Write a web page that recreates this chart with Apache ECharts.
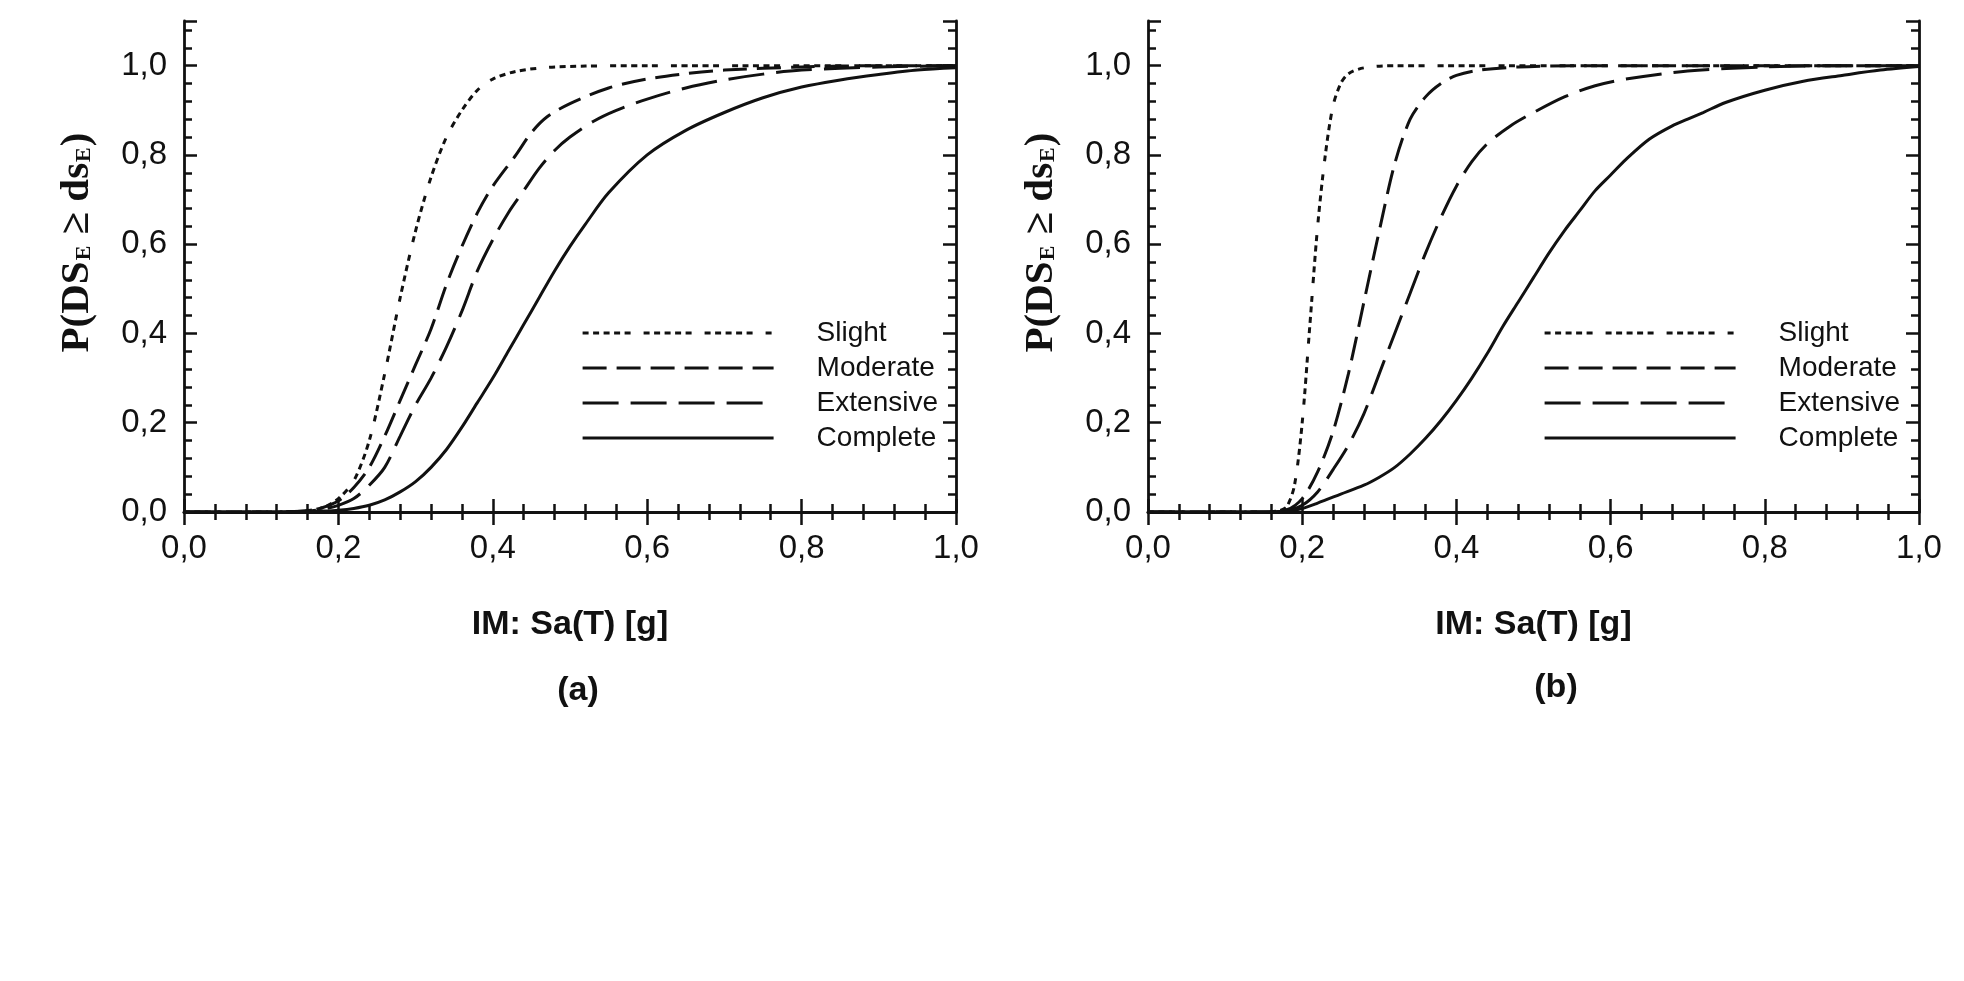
<!DOCTYPE html>
<html>
<head>
<meta charset="utf-8">
<title>Fragility curves</title>
<script src="https://cdn.jsdelivr.net/npm/echarts@6/dist/echarts.min.js"></script>
<style>
  html, body { margin: 0; padding: 0; background: #fff; }
  #chart { width: 1964px; height: 981px; }
</style>
</head>
<body>
<div id="chart"></div>
<script>
// damage state names
const states = ['Slight', 'Moderate', 'Extensive', 'Complete'];
const xTicks = [0, 0.2, 0.4, 0.6, 0.8, 1.0];
const yTicks = [0, 0.2, 0.4, 0.6, 0.8, 1.0];

// panel (a): [Sa(T), P]
const slightA = [[0, 0], [0.10, 0], [0.15, 0.002], [0.18, 0.01], [0.20, 0.03], [0.22, 0.07], [0.24, 0.16], [0.26, 0.31], [0.28, 0.48], [0.30, 0.63], [0.32, 0.75], [0.34, 0.84], [0.36, 0.9], [0.38, 0.945], [0.40, 0.97], [0.43, 0.987], [0.47, 0.996], [0.52, 0.999], [0.6, 1], [1, 1]];
const moderateA = [[0, 0], [0.12, 0], [0.16, 0.003], [0.18, 0.01], [0.20, 0.025], [0.22, 0.055], [0.24, 0.1], [0.26, 0.17], [0.28, 0.25], [0.30, 0.33], [0.32, 0.41], [0.34, 0.51], [0.36, 0.595], [0.38, 0.67], [0.40, 0.73], [0.43, 0.80], [0.45, 0.85], [0.47, 0.885], [0.50, 0.915], [0.55, 0.95], [0.60, 0.97], [0.65, 0.982], [0.70, 0.99], [0.8, 0.997], [0.9, 1], [1, 1]];
const extensiveA = [[0, 0], [0.12, 0], [0.16, 0.002], [0.18, 0.006], [0.20, 0.015], [0.22, 0.03], [0.24, 0.06], [0.26, 0.1], [0.28, 0.17], [0.30, 0.24], [0.32, 0.3], [0.34, 0.37], [0.36, 0.45], [0.38, 0.54], [0.40, 0.61], [0.42, 0.67], [0.44, 0.72], [0.46, 0.77], [0.48, 0.81], [0.50, 0.84], [0.53, 0.875], [0.56, 0.9], [0.60, 0.925], [0.65, 0.95], [0.70, 0.968], [0.75, 0.981], [0.80, 0.99], [0.9, 0.997], [1, 1]];
const completeA = [[0, 0], [0.15, 0], [0.18, 0.002], [0.20, 0.004], [0.22, 0.008], [0.24, 0.015], [0.26, 0.027], [0.28, 0.045], [0.30, 0.068], [0.32, 0.1], [0.34, 0.14], [0.36, 0.19], [0.38, 0.245], [0.40, 0.30], [0.42, 0.36], [0.44, 0.42], [0.46, 0.48], [0.48, 0.54], [0.50, 0.595], [0.52, 0.645], [0.55, 0.715], [0.60, 0.80], [0.65, 0.855], [0.70, 0.895], [0.75, 0.928], [0.80, 0.952], [0.85, 0.968], [0.90, 0.98], [0.95, 0.99], [1.0, 0.995]];

// panel (b)
const slightB = [[0, 0], [0.15, 0], [0.17, 0.003], [0.18, 0.012], [0.19, 0.06], [0.20, 0.2], [0.21, 0.42], [0.22, 0.64], [0.23, 0.8], [0.24, 0.91], [0.25, 0.96], [0.26, 0.982], [0.28, 0.995], [0.32, 1], [1, 1]];
const moderateB = [[0, 0], [0.15, 0], [0.18, 0.005], [0.20, 0.03], [0.22, 0.09], [0.24, 0.18], [0.26, 0.31], [0.28, 0.47], [0.30, 0.63], [0.32, 0.78], [0.34, 0.88], [0.36, 0.93], [0.38, 0.96], [0.40, 0.978], [0.43, 0.99], [0.48, 0.997], [0.55, 1], [1, 1]];
const extensiveB = [[0, 0], [0.15, 0], [0.18, 0.003], [0.20, 0.015], [0.22, 0.045], [0.24, 0.095], [0.26, 0.15], [0.28, 0.22], [0.30, 0.31], [0.32, 0.4], [0.34, 0.49], [0.36, 0.58], [0.38, 0.66], [0.40, 0.73], [0.42, 0.785], [0.44, 0.825], [0.47, 0.865], [0.50, 0.895], [0.54, 0.93], [0.58, 0.955], [0.62, 0.97], [0.70, 0.988], [0.80, 0.997], [0.9, 1], [1, 1]];
const completeB = [[0, 0], [0.15, 0], [0.18, 0.002], [0.20, 0.008], [0.22, 0.02], [0.25, 0.04], [0.28, 0.06], [0.30, 0.078], [0.32, 0.1], [0.34, 0.13], [0.36, 0.165], [0.38, 0.205], [0.40, 0.25], [0.42, 0.3], [0.44, 0.355], [0.46, 0.415], [0.48, 0.47], [0.50, 0.525], [0.52, 0.58], [0.54, 0.63], [0.56, 0.675], [0.58, 0.72], [0.60, 0.755], [0.62, 0.79], [0.65, 0.835], [0.68, 0.865], [0.70, 0.88], [0.72, 0.895], [0.75, 0.918], [0.80, 0.945], [0.85, 0.965], [0.90, 0.978], [0.95, 0.99], [1.0, 0.998]];

const panels = [
  { tag: '(a)', data: [slightA, moderateA, extensiveA, completeA] },
  { tag: '(b)', data: [slightB, moderateB, extensiveB, completeB] },
];

// dash patterns per damage state
const dashes = [
  [6, 4.5, 6, 4.5, 6, 4.5, 6, 4.5, 6, 13],
  [24, 10],
  [36, 12],
  'solid',
];

const black = '#111';
const sans = 'Liberation Sans, Arial, sans-serif';
const serif = 'Liberation Serif, Times New Roman, serif';
const fmt = (v) => (xTicks.concat(yTicks).some((t) => Math.abs(t - v) < 1e-6) ? v.toFixed(1).replace('.', ',') : '');

const grids = [
  { left: 184, top: 21, width: 772, height: 491 },
  { left: 1148, top: 21, width: 771, height: 491 },
];

let xAxis = [];
let yAxis = [];
let series = [];

grids.forEach((g, gi) => {
  // bottom + top x axes
  ['bottom', 'top'].forEach((pos) => {
    xAxis.push({
      type: 'value',
      gridIndex: gi,
      position: pos,
      min: 0,
      max: 1,
      interval: 0.2,
      name: pos === 'bottom' ? 'IM: Sa(T) [g]' : '',
      nameLocation: 'middle',
      nameGap: 96,
      nameTextStyle: { fontFamily: sans, fontWeight: 'bold', fontSize: 34, color: black },
      axisLine: { show: true, lineStyle: { color: black, width: 2.8 } },
      axisTick: { show: true, inside: true, length: 13, lineStyle: { color: black, width: 2.5 } },
      minorTick: { show: true, splitNumber: 5, length: 8, lineStyle: { color: black, width: 2.5 } },
      axisLabel: { show: pos === 'bottom', margin: 20, fontFamily: sans, fontSize: 33, color: black, formatter: fmt },
      splitLine: { show: false },
    });
  });
  // y axes: major (labels) and minor (0.04 step) on both sides
  ['left', 'right'].forEach((pos) => {
    yAxis.push({
      type: 'value',
      gridIndex: gi,
      position: pos,
      min: 0,
      max: 1.1,
      interval: 0.2,
      name: pos === 'left' ? '{m|P(DS}{s|E}{m| ≥ ds}{s|E}{m|)}' : '',
      nameLocation: 'middle',
      nameGap: 86,
      nameRotate: 90,
      nameTextStyle: {
        padding: [0, 0, 0, 48],
        rich: {
          m: { fontFamily: serif, fontWeight: 'bold', fontSize: 41, color: black },
          s: { fontFamily: serif, fontWeight: 'bold', fontSize: 22, color: black, verticalAlign: 'bottom', padding: [0, 1, 3, 1] },
        },
      },
      axisLine: { show: true, lineStyle: { color: black, width: 2.8 } },
      axisTick: { show: true, inside: true, length: 13, lineStyle: { color: black, width: 2.5 } },
      axisLabel: { show: pos === 'left', margin: 17, fontFamily: sans, fontSize: 33, color: black, formatter: fmt },
      splitLine: { show: false },
    });
    yAxis.push({
      type: 'value',
      gridIndex: gi,
      position: pos,
      offset: 0,
      min: 0,
      max: 1.1,
      interval: 0.04,
      axisLine: { show: false },
      axisTick: { show: true, inside: true, length: 8, lineStyle: { color: black, width: 2.5 } },
      axisLabel: { show: false },
      splitLine: { show: false },
    });
  });

  panels[gi].data.forEach((d, si) => {
    series.push({
      name: states[si],
      type: 'line',
      xAxisIndex: gi * 2,
      yAxisIndex: gi * 4,
      data: d,
      smooth: 0.3,
      symbol: 'none',
      lineStyle: { color: black, width: 3, type: dashes[si] },
      silent: true,
    });
  });
});

const legendBase = {
  data: states,
  orient: 'vertical',
  padding: 0,
  itemWidth: 191,
  itemHeight: 30,
  itemGap: 5,
  selectedMode: false,
  itemStyle: { opacity: 0 },
  lineStyle: { color: black, width: 3.2 },
  textStyle: { fontFamily: sans, fontSize: 28, lineHeight: 30, color: black, padding: [0, 0, 0, 38] },
};

const myChart = echarts.init(document.getElementById('chart'));
const option = {
  backgroundColor: '#fff',
  animation: false,
  grid: grids,
  xAxis: xAxis,
  yAxis: yAxis,
  series: series,
  legend: [
    Object.assign({}, legendBase, { left: 581, top: 318 }),
    Object.assign({}, legendBase, { left: 1543, top: 318 }),
  ],
  graphic: [
    { type: 'text', x: 578, y: 691, style: { text: panels[0].tag, font: 'bold 34px ' + sans, fill: black, textAlign: 'center', textVerticalAlign: 'middle' } },
    { type: 'text', x: 1556, y: 688, style: { text: panels[1].tag, font: 'bold 34px ' + sans, fill: black, textAlign: 'center', textVerticalAlign: 'middle' } },
  ],
};
myChart.setOption(option);
</script>
</body>
</html>
